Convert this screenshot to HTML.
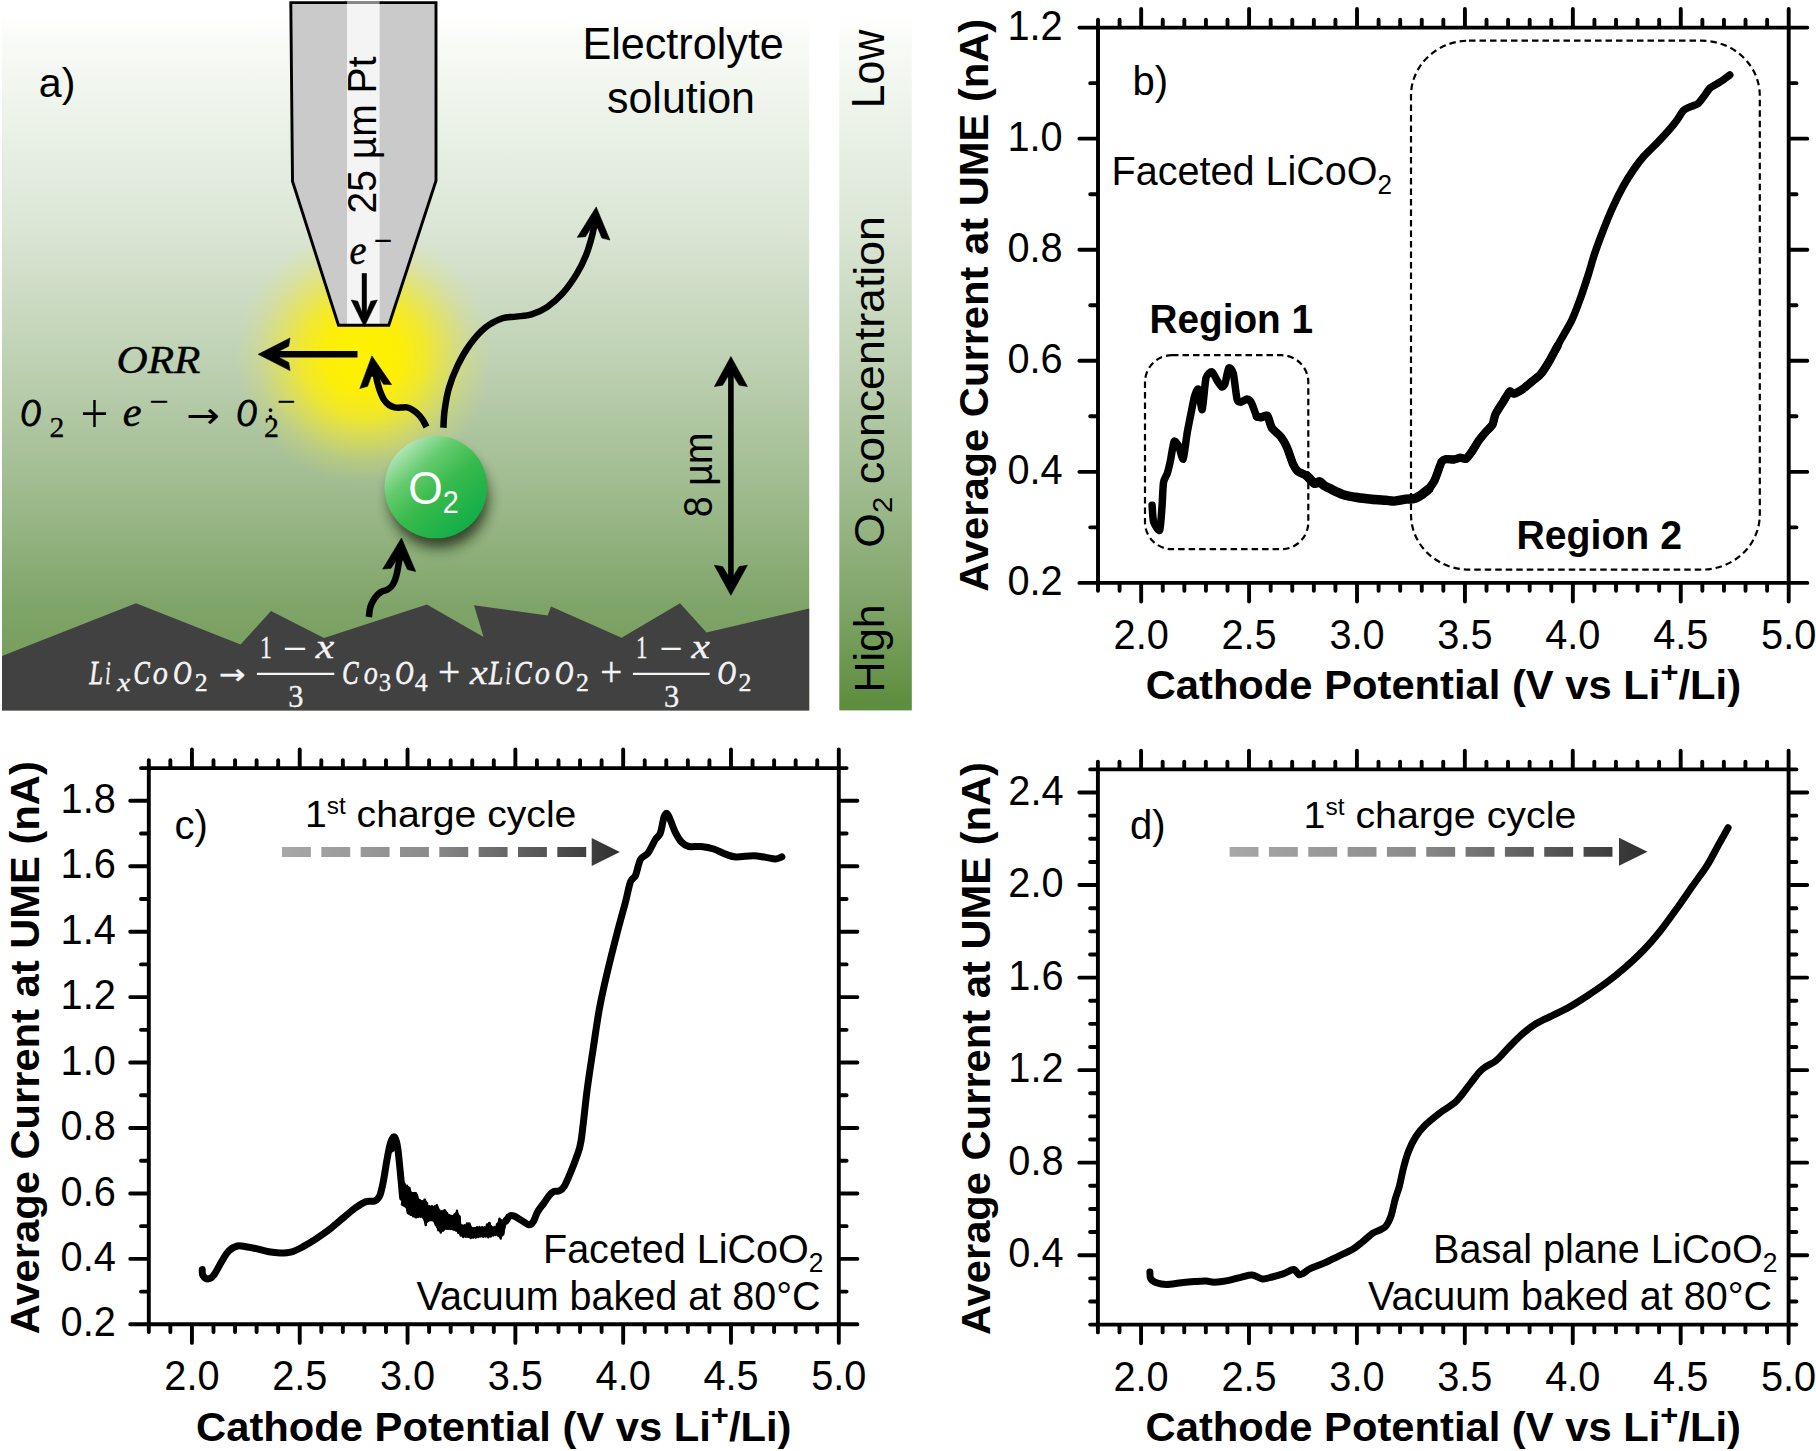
<!DOCTYPE html>
<html lang="en"><head><meta charset="utf-8"><title>Figure</title>
<style>html,body{margin:0;padding:0;background:#fff}svg{display:block}</style>
</head><body>
<svg width="1816" height="1451" viewBox="0 0 1816 1451">
<rect width="1816" height="1451" fill="#fff"/>
<defs>
<linearGradient id="gbg" x1="0" y1="0" x2="0" y2="1"><stop offset="0" stop-color="#ffffff"/><stop offset="0.045" stop-color="#f8faf6"/><stop offset="0.13" stop-color="#eef4eb"/><stop offset="0.305" stop-color="#dbe6d5"/><stop offset="0.50" stop-color="#bed1b3"/><stop offset="0.70" stop-color="#9cb98b"/><stop offset="0.85" stop-color="#7fa468"/><stop offset="1" stop-color="#6e9a52"/></linearGradient>
<linearGradient id="gcb" x1="0" y1="0" x2="0" y2="1"><stop offset="0" stop-color="#ffffff"/><stop offset="0.045" stop-color="#f8faf6"/><stop offset="0.13" stop-color="#eef4eb"/><stop offset="0.305" stop-color="#dbe6d5"/><stop offset="0.50" stop-color="#bed1b3"/><stop offset="0.70" stop-color="#9cb98b"/><stop offset="0.85" stop-color="#7fa468"/><stop offset="1" stop-color="#5c8c3c"/></linearGradient>
<radialGradient id="gglow" cx="0.5" cy="0.5" r="0.5"><stop offset="0" stop-color="#fff100" stop-opacity="1"/><stop offset="0.30" stop-color="#fdee08" stop-opacity="1"/><stop offset="0.48" stop-color="#f9ec18" stop-opacity="0.85"/><stop offset="0.66" stop-color="#f5ea28" stop-opacity="0.52"/><stop offset="0.83" stop-color="#f2e838" stop-opacity="0.2"/><stop offset="1" stop-color="#f0e840" stop-opacity="0"/></radialGradient>
<linearGradient id="gball" x1="0.15" y1="0.1" x2="0.85" y2="0.9"><stop offset="0" stop-color="#b8e8bc"/><stop offset="0.28" stop-color="#64cb6e"/><stop offset="0.55" stop-color="#38ba4c"/><stop offset="1" stop-color="#10ad48"/></linearGradient>
<filter id="fsh" x="-50%" y="-50%" width="200%" height="200%"><feGaussianBlur stdDeviation="6.5"/></filter>
</defs>
<rect x="2" y="15" width="807.2" height="695.4" fill="url(#gbg)"/>
<rect x="839.3" y="15" width="72.5" height="695.4" fill="url(#gcb)"/>
<circle cx="364" cy="356" r="128" fill="url(#gglow)"/>
<path d="M290.8 2.6 L436 2.6 L436 180.8 L388.8 325.3 L338.5 325.3 L292.5 181.3 Z" fill="#cacaca"/>
<rect x="347" y="1.5" width="32.6" height="324" fill="#f4f4f4"/>
<path d="M290.8 2.6 L436 2.6 L436 180.8 L388.8 325.3 L338.5 325.3 L292.5 181.3 Z" fill="none" stroke="#000" stroke-width="2.9" stroke-linejoin="miter"/>
<rect x="347" y="1.2" width="32.6" height="2.8" fill="#f4f4f4" opacity="0.55"/>
<text x="376" y="213.5" font-size="40.5" font-family='"Liberation Sans", Arial, Helvetica, sans-serif' fill="#000" textLength="157" lengthAdjust="spacingAndGlyphs" transform="rotate(-90 376 213.5)">25 µm Pt</text>
<text font-family='"Liberation Serif", "Times New Roman", serif'><tspan x="349.42" y="263.7" font-size="40" fill="#000" font-style="italic" textLength="16.96" lengthAdjust="spacingAndGlyphs" stroke="#000" stroke-width="0.5">e</tspan><tspan x="373.68" y="254.2" font-size="40" fill="#000" font-style="normal" textLength="18.44" lengthAdjust="spacingAndGlyphs" stroke="#000" stroke-width="0.3">−</tspan></text>
<path d="M364.3 273.2 V316" stroke="#000" stroke-width="5" fill="none"/>
<path d="M364.3 326.6L351.3 300L357.8 301.3L361.8 312.1L366.8 312.1L370.8 301.3L377.3 300 Z" fill="#000" stroke="#000" stroke-width="0.6" stroke-linejoin="round"/>
<path d="M2 656L136 603.3L240.6 644.6L271 611L324 638L426.8 604.6L483.6 637L474 605.3L547.7 615.5L551 606.6L621.6 637.7L680 603.3L706.5 632.4L809.2 608.6L809.2 710.4L2 710.4 Z" fill="#414141"/>
<path d="M357.5 354.3 H270" stroke="#000" stroke-width="6.5" fill="none"/>
<path d="M258.2 354.3L290 338L288.7 346.15L279.19 351.05L279.19 357.55L288.7 362.45L290 370.6 Z" fill="#000" stroke="#000" stroke-width="0.6" stroke-linejoin="round"/>
<path d="M426.5 427C425.83 425.75 424.02 421.75 422.5 419.5C420.98 417.25 419.15 415.17 417.4 413.5C415.65 411.83 413.77 410.52 412 409.5C410.23 408.48 408.72 407.72 406.8 407.4C404.88 407.08 402.52 407.6 400.5 407.6C398.48 407.6 396.62 407.83 394.7 407.4C392.78 406.97 390.78 406.27 389 405C387.22 403.73 385.5 402.13 384 399.8C382.5 397.47 381.13 394.03 380 391C378.87 387.97 377.98 384.77 377.2 381.6C376.42 378.43 375.62 373.6 375.3 372" stroke="#000" stroke-width="6.5" fill="none" stroke-linecap="butt"/>
<path d="M371.9 355.9L391.6 384.59L383.5 384.28L377.65 375.74L371.2 376.54L367.62 386.26L359.84 388.54 Z" fill="#000" stroke="#000" stroke-width="0.6" stroke-linejoin="round"/>
<path d="M443.4 427.7C443.6 424.83 443.68 417.1 444.6 410.5C445.52 403.9 446.73 395.57 448.9 388.1C451.07 380.63 454.15 372.88 457.6 365.7C461.05 358.52 465.02 351.32 469.6 345C474.18 338.68 479.63 332.25 485.1 327.8C490.57 323.35 497.23 320.17 502.4 318.3C507.57 316.43 511.23 317.25 516.1 316.6C520.97 315.95 526.43 315.98 531.6 314.4C536.77 312.82 541.93 310.6 547.1 307.1C552.27 303.6 557.72 298.85 562.6 293.4C567.48 287.95 572.52 280.72 576.4 274.4C580.28 268.08 583.32 261.82 585.9 255.5C588.48 249.18 590.45 241.75 591.9 236.5C593.35 231.25 594.15 226.08 594.6 224" stroke="#000" stroke-width="6.5" fill="none"/>
<path d="M596.2 206.9L609.93 240.04L601.87 238.07L597.71 228.15L591.24 227.62L585.52 236.73L577.24 237.35 Z" fill="#000" stroke="#000" stroke-width="0.6" stroke-linejoin="round"/>
<path d="M368.9 616.9C369.15 615.22 369.43 609.93 370.4 606.8C371.37 603.67 373.02 600.52 374.7 598.1C376.38 595.68 378.57 593.63 380.5 592.3C382.43 590.97 384.48 591.07 386.3 590.1C388.12 589.13 389.95 588.18 391.4 586.5C392.85 584.82 394.03 582.42 395 580C395.97 577.58 396.6 574.65 397.2 572C397.8 569.35 398.13 566.75 398.6 564.1C399.07 561.45 399.77 557.43 400 556.1" stroke="#000" stroke-width="6.5" fill="none"/>
<path d="M401.5 538L415.65 571.4L407.51 569.51L403.17 560.18L396.69 559.71L391.05 568.33L382.73 569.04 Z" fill="#000" stroke="#000" stroke-width="0.6" stroke-linejoin="round"/>
<circle cx="438.85" cy="498.55" r="49.3" fill="#18240f" opacity="0.78" filter="url(#fsh)"/>
<circle cx="435.85" cy="487.05" r="51.3" fill="url(#gball)"/>
<text x="408.2" y="503.8" font-size="47" font-family='"Liberation Sans", Arial, Helvetica, sans-serif' fill="#fff" textLength="50.5" lengthAdjust="spacingAndGlyphs">O<tspan font-size="30.5" dy="9">2</tspan></text>
<path d="M730.9 370 V582" stroke="#000" stroke-width="5.6" fill="none"/>
<path d="M730.9 356.5L747.4 386.5L739.15 385.2L733.7 376.3L728.1 376.3L722.65 385.2L714.4 386.5 Z" fill="#000" stroke="#000" stroke-width="0.6" stroke-linejoin="round"/>
<path d="M730.9 595.3L714.4 565.3L722.65 566.6L728.1 575.5L733.7 575.5L739.15 566.6L747.4 565.3 Z" fill="#000" stroke="#000" stroke-width="0.6" stroke-linejoin="round"/>
<text x="712" y="517.2" font-size="40" font-family='"Liberation Sans", Arial, Helvetica, sans-serif' fill="#000" textLength="84.5" lengthAdjust="spacingAndGlyphs" transform="rotate(-90 712 517.2)">8 µm</text>
<text x="38.8" y="97.3" font-size="41.5" font-family='"Liberation Sans", Arial, Helvetica, sans-serif' fill="#000" textLength="36.6" lengthAdjust="spacingAndGlyphs">a)</text>
<text x="582.4" y="58.5" font-size="43.7" font-family='"Liberation Sans", Arial, Helvetica, sans-serif' fill="#000" textLength="201.5" lengthAdjust="spacingAndGlyphs">Electrolyte</text>
<text x="607" y="113" font-size="43.7" font-family='"Liberation Sans", Arial, Helvetica, sans-serif' fill="#000" textLength="148" lengthAdjust="spacingAndGlyphs">solution</text>
<text x="883.6" y="108.2" font-size="46.4" font-family='"Liberation Sans", Arial, Helvetica, sans-serif' fill="#000" textLength="78.5" lengthAdjust="spacingAndGlyphs" transform="rotate(-90 883.6 108.2)">Low</text>
<text x="884" y="547.7" font-size="43.3" font-family='"Liberation Sans", Arial, Helvetica, sans-serif' fill="#000" textLength="331.6" lengthAdjust="spacingAndGlyphs" transform="rotate(-90 884 547.7)">O<tspan font-size="28.5" dy="8.5">2</tspan><tspan dy="-8.5"> concentration</tspan></text>
<text x="883.9" y="692.6" font-size="42.5" font-family='"Liberation Sans", Arial, Helvetica, sans-serif' fill="#000" textLength="88.4" lengthAdjust="spacingAndGlyphs" transform="rotate(-90 883.9 692.6)">High</text>
<text x="116.5" y="372.5" font-size="41" font-family='"Liberation Serif", "Times New Roman", serif' fill="#000" font-style="italic" textLength="84" lengthAdjust="spacingAndGlyphs" stroke="#000" stroke-width="0.4">ORR</text>
<text font-family='"Liberation Serif", "Times New Roman", serif'><tspan x="20.52" y="425.7" font-size="40" fill="#000" font-style="italic" textLength="20.56" lengthAdjust="spacingAndGlyphs" stroke="#000" stroke-width="1.1">O</tspan><tspan x="49.38" y="436.6" font-size="30" fill="#000" font-style="normal" textLength="14.84" lengthAdjust="spacingAndGlyphs" stroke="#000" stroke-width="0.3">2</tspan><tspan x="80.61" y="433.2" font-size="57" fill="#000" font-style="normal" textLength="27.98" lengthAdjust="spacingAndGlyphs">+</tspan><tspan x="122.77" y="425.7" font-size="40" fill="#000" font-style="italic" textLength="18.76" lengthAdjust="spacingAndGlyphs" stroke="#000" stroke-width="0.5">e</tspan><tspan x="149.26" y="413.16" font-size="34" fill="#000" font-style="normal" textLength="19.08" lengthAdjust="spacingAndGlyphs" stroke="#000" stroke-width="0.4">−</tspan><tspan x="186.3" y="428" font-size="36" fill="#000" font-style="normal" textLength="33.6" lengthAdjust="spacingAndGlyphs" font-family='"DejaVu Sans", sans-serif'>→</tspan><tspan x="236.42" y="425.7" font-size="40" fill="#000" font-style="italic" textLength="20.56" lengthAdjust="spacingAndGlyphs" stroke="#000" stroke-width="1.1">O</tspan><tspan x="263.88" y="436.6" font-size="30" fill="#000" font-style="normal" textLength="14.95" lengthAdjust="spacingAndGlyphs" stroke="#000" stroke-width="0.3">2</tspan><tspan x="268.06" y="418.3" font-size="19" fill="#000" font-style="normal" textLength="4.88" lengthAdjust="spacingAndGlyphs" stroke="#000" stroke-width="1.5">:</tspan><tspan x="276.99" y="413.16" font-size="34" fill="#000" font-style="normal" textLength="18.13" lengthAdjust="spacingAndGlyphs" stroke="#000" stroke-width="0.4">−</tspan></text>
<text font-family='"Liberation Serif", "Times New Roman", serif'><tspan x="89.42" y="684" font-size="34" fill="#f4f4f4" font-style="italic" textLength="13.36" lengthAdjust="spacingAndGlyphs" stroke="#f4f4f4" stroke-width="0.8">L</tspan><tspan x="105.35" y="684" font-size="34" fill="#f4f4f4" font-style="italic" textLength="5.41" lengthAdjust="spacingAndGlyphs" stroke="#f4f4f4" stroke-width="0.35">i</tspan><tspan x="117.33" y="690.6" font-size="25" fill="#f4f4f4" font-style="italic" textLength="12.93" lengthAdjust="spacingAndGlyphs" stroke="#f4f4f4" stroke-width="0.35">x</tspan><tspan x="133.54" y="684" font-size="34" fill="#f4f4f4" font-style="italic" textLength="16.22" lengthAdjust="spacingAndGlyphs" stroke="#f4f4f4" stroke-width="0.8">C</tspan><tspan x="152.87" y="684" font-size="34" fill="#f4f4f4" font-style="italic" textLength="15.16" lengthAdjust="spacingAndGlyphs" stroke="#f4f4f4" stroke-width="0.35">o</tspan><tspan x="173.18" y="684" font-size="34" fill="#f4f4f4" font-style="italic" textLength="18.34" lengthAdjust="spacingAndGlyphs" stroke="#f4f4f4" stroke-width="0.8">O</tspan><tspan x="194.73" y="690.6" font-size="25" fill="#f4f4f4" font-style="normal" textLength="12.93" lengthAdjust="spacingAndGlyphs" stroke="#f4f4f4" stroke-width="0.35">2</tspan><tspan x="219" y="683.5" font-size="28" fill="#f4f4f4" font-style="normal" textLength="26.5" lengthAdjust="spacingAndGlyphs" stroke="#f4f4f4" stroke-width="0.35" font-family='"DejaVu Sans", sans-serif'>→</tspan><tspan x="259.96" y="657.5" font-size="32" fill="#f4f4f4" font-style="normal" textLength="11.87" lengthAdjust="spacingAndGlyphs" stroke="#f4f4f4" stroke-width="0.35">1</tspan><tspan x="283.02" y="661.9" font-size="40" fill="#f4f4f4" font-style="normal" textLength="23.85" lengthAdjust="spacingAndGlyphs" stroke="#f4f4f4" stroke-width="0.35">−</tspan><tspan x="315.78" y="657.5" font-size="34" fill="#f4f4f4" font-style="italic" textLength="18.44" lengthAdjust="spacingAndGlyphs" stroke="#f4f4f4" stroke-width="0.35">x</tspan><tspan x="288.37" y="707" font-size="32" fill="#f4f4f4" font-style="normal" textLength="15.16" lengthAdjust="spacingAndGlyphs" stroke="#f4f4f4" stroke-width="0.35">3</tspan><tspan x="342.34" y="684" font-size="34" fill="#f4f4f4" font-style="italic" textLength="16.22" lengthAdjust="spacingAndGlyphs" stroke="#f4f4f4" stroke-width="0.8">C</tspan><tspan x="363.8" y="684" font-size="34" fill="#f4f4f4" font-style="italic" textLength="14.1" lengthAdjust="spacingAndGlyphs" stroke="#f4f4f4" stroke-width="0.35">o</tspan><tspan x="378.75" y="690.6" font-size="25" fill="#f4f4f4" font-style="normal" textLength="12.3" lengthAdjust="spacingAndGlyphs" stroke="#f4f4f4" stroke-width="0.35">3</tspan><tspan x="395.28" y="684" font-size="34" fill="#f4f4f4" font-style="italic" textLength="18.34" lengthAdjust="spacingAndGlyphs" stroke="#f4f4f4" stroke-width="0.8">O</tspan><tspan x="414.83" y="690.6" font-size="25" fill="#f4f4f4" font-style="normal" textLength="12.93" lengthAdjust="spacingAndGlyphs" stroke="#f4f4f4" stroke-width="0.35">4</tspan><tspan x="438.07" y="686.3" font-size="42" fill="#f4f4f4" font-style="normal" textLength="22.26" lengthAdjust="spacingAndGlyphs" stroke="#f4f4f4" stroke-width="0.35">+</tspan><tspan x="470" y="684" font-size="34" fill="#f4f4f4" font-style="italic" textLength="17.7" lengthAdjust="spacingAndGlyphs" stroke="#f4f4f4" stroke-width="0.35">x</tspan><tspan x="488.9" y="684" font-size="34" fill="#f4f4f4" font-style="italic" textLength="13.99" lengthAdjust="spacingAndGlyphs" stroke="#f4f4f4" stroke-width="0.8">L</tspan><tspan x="505.45" y="684" font-size="34" fill="#f4f4f4" font-style="italic" textLength="5.41" lengthAdjust="spacingAndGlyphs" stroke="#f4f4f4" stroke-width="0.35">i</tspan><tspan x="514.21" y="684" font-size="34" fill="#f4f4f4" font-style="italic" textLength="17.28" lengthAdjust="spacingAndGlyphs" stroke="#f4f4f4" stroke-width="0.8">C</tspan><tspan x="534.67" y="684" font-size="34" fill="#f4f4f4" font-style="italic" textLength="15.16" lengthAdjust="spacingAndGlyphs" stroke="#f4f4f4" stroke-width="0.35">o</tspan><tspan x="554.98" y="684" font-size="34" fill="#f4f4f4" font-style="italic" textLength="18.34" lengthAdjust="spacingAndGlyphs" stroke="#f4f4f4" stroke-width="0.8">O</tspan><tspan x="576.13" y="690.6" font-size="25" fill="#f4f4f4" font-style="normal" textLength="12.93" lengthAdjust="spacingAndGlyphs" stroke="#f4f4f4" stroke-width="0.35">2</tspan><tspan x="600.28" y="686.3" font-size="42" fill="#f4f4f4" font-style="normal" textLength="22.05" lengthAdjust="spacingAndGlyphs" stroke="#f4f4f4" stroke-width="0.35">+</tspan><tspan x="636.08" y="657.5" font-size="32" fill="#f4f4f4" font-style="normal" textLength="11.45" lengthAdjust="spacingAndGlyphs" stroke="#f4f4f4" stroke-width="0.35">1</tspan><tspan x="659.76" y="661.9" font-size="40" fill="#f4f4f4" font-style="normal" textLength="22.68" lengthAdjust="spacingAndGlyphs" stroke="#f4f4f4" stroke-width="0.35">−</tspan><tspan x="691.48" y="657.5" font-size="34" fill="#f4f4f4" font-style="italic" textLength="18.34" lengthAdjust="spacingAndGlyphs" stroke="#f4f4f4" stroke-width="0.35">x</tspan><tspan x="664.07" y="707" font-size="32" fill="#f4f4f4" font-style="normal" textLength="15.16" lengthAdjust="spacingAndGlyphs" stroke="#f4f4f4" stroke-width="0.35">3</tspan><tspan x="717.38" y="684" font-size="34" fill="#f4f4f4" font-style="italic" textLength="18.55" lengthAdjust="spacingAndGlyphs" stroke="#f4f4f4" stroke-width="0.8">O</tspan><tspan x="738.53" y="690.6" font-size="25" fill="#f4f4f4" font-style="normal" textLength="12.93" lengthAdjust="spacingAndGlyphs" stroke="#f4f4f4" stroke-width="0.35">2</tspan></text>
<path d="M256.9 673.8 H334.3 M632.9 673.8 H709.7" stroke="#f4f4f4" stroke-width="2.2" fill="none"/>
<path d="M1098 27.6 L1788.7 27.6M1098 582.9 L1788.7 582.9M1098 27.6 L1098 582.9M1788.7 27.6 L1788.7 582.9M1098 27.6 L1098 19.8M1098 582.9 L1098 590.7M1119.58 27.6 L1119.58 19.8M1119.58 582.9 L1119.58 590.7M1141.17 27.6 L1141.17 9M1141.17 582.9 L1141.17 601.5M1162.75 27.6 L1162.75 19.8M1162.75 582.9 L1162.75 590.7M1184.34 27.6 L1184.34 19.8M1184.34 582.9 L1184.34 590.7M1205.92 27.6 L1205.92 19.8M1205.92 582.9 L1205.92 590.7M1227.51 27.6 L1227.51 19.8M1227.51 582.9 L1227.51 590.7M1249.09 27.6 L1249.09 9M1249.09 582.9 L1249.09 601.5M1270.67 27.6 L1270.67 19.8M1270.67 582.9 L1270.67 590.7M1292.26 27.6 L1292.26 19.8M1292.26 582.9 L1292.26 590.7M1313.84 27.6 L1313.84 19.8M1313.84 582.9 L1313.84 590.7M1335.43 27.6 L1335.43 19.8M1335.43 582.9 L1335.43 590.7M1357.01 27.6 L1357.01 9M1357.01 582.9 L1357.01 601.5M1378.6 27.6 L1378.6 19.8M1378.6 582.9 L1378.6 590.7M1400.18 27.6 L1400.18 19.8M1400.18 582.9 L1400.18 590.7M1421.77 27.6 L1421.77 19.8M1421.77 582.9 L1421.77 590.7M1443.35 27.6 L1443.35 19.8M1443.35 582.9 L1443.35 590.7M1464.93 27.6 L1464.93 9M1464.93 582.9 L1464.93 601.5M1486.52 27.6 L1486.52 19.8M1486.52 582.9 L1486.52 590.7M1508.1 27.6 L1508.1 19.8M1508.1 582.9 L1508.1 590.7M1529.69 27.6 L1529.69 19.8M1529.69 582.9 L1529.69 590.7M1551.27 27.6 L1551.27 19.8M1551.27 582.9 L1551.27 590.7M1572.86 27.6 L1572.86 9M1572.86 582.9 L1572.86 601.5M1594.44 27.6 L1594.44 19.8M1594.44 582.9 L1594.44 590.7M1616.03 27.6 L1616.03 19.8M1616.03 582.9 L1616.03 590.7M1637.61 27.6 L1637.61 19.8M1637.61 582.9 L1637.61 590.7M1659.19 27.6 L1659.19 19.8M1659.19 582.9 L1659.19 590.7M1680.78 27.6 L1680.78 9M1680.78 582.9 L1680.78 601.5M1702.36 27.6 L1702.36 19.8M1702.36 582.9 L1702.36 590.7M1723.95 27.6 L1723.95 19.8M1723.95 582.9 L1723.95 590.7M1745.53 27.6 L1745.53 19.8M1745.53 582.9 L1745.53 590.7M1767.12 27.6 L1767.12 19.8M1767.12 582.9 L1767.12 590.7M1788.7 27.6 L1788.7 9M1788.7 582.9 L1788.7 601.5M1098 582.9 L1079.4 582.9M1788.7 582.9 L1807.3 582.9M1098 527.37 L1090.2 527.37M1788.7 527.37 L1796.5 527.37M1098 471.84 L1079.4 471.84M1788.7 471.84 L1807.3 471.84M1098 416.31 L1090.2 416.31M1788.7 416.31 L1796.5 416.31M1098 360.78 L1079.4 360.78M1788.7 360.78 L1807.3 360.78M1098 305.25 L1090.2 305.25M1788.7 305.25 L1796.5 305.25M1098 249.72 L1079.4 249.72M1788.7 249.72 L1807.3 249.72M1098 194.19 L1090.2 194.19M1788.7 194.19 L1796.5 194.19M1098 138.66 L1079.4 138.66M1788.7 138.66 L1807.3 138.66M1098 83.13 L1090.2 83.13M1788.7 83.13 L1796.5 83.13M1098 27.6 L1079.4 27.6M1788.7 27.6 L1807.3 27.6" stroke="#000" stroke-width="3.9" stroke-linecap="round" fill="none"/>
<text x="1141.17" y="648.8" font-size="42.2" font-family='"Liberation Sans", Arial, Helvetica, sans-serif' fill="#000" text-anchor="middle" textLength="55.2" lengthAdjust="spacingAndGlyphs">2.0</text>
<text x="1249.09" y="648.8" font-size="42.2" font-family='"Liberation Sans", Arial, Helvetica, sans-serif' fill="#000" text-anchor="middle" textLength="55.2" lengthAdjust="spacingAndGlyphs">2.5</text>
<text x="1357.01" y="648.8" font-size="42.2" font-family='"Liberation Sans", Arial, Helvetica, sans-serif' fill="#000" text-anchor="middle" textLength="55.2" lengthAdjust="spacingAndGlyphs">3.0</text>
<text x="1464.93" y="648.8" font-size="42.2" font-family='"Liberation Sans", Arial, Helvetica, sans-serif' fill="#000" text-anchor="middle" textLength="55.2" lengthAdjust="spacingAndGlyphs">3.5</text>
<text x="1572.86" y="648.8" font-size="42.2" font-family='"Liberation Sans", Arial, Helvetica, sans-serif' fill="#000" text-anchor="middle" textLength="55.2" lengthAdjust="spacingAndGlyphs">4.0</text>
<text x="1680.78" y="648.8" font-size="42.2" font-family='"Liberation Sans", Arial, Helvetica, sans-serif' fill="#000" text-anchor="middle" textLength="55.2" lengthAdjust="spacingAndGlyphs">4.5</text>
<text x="1788.7" y="648.8" font-size="42.2" font-family='"Liberation Sans", Arial, Helvetica, sans-serif' fill="#000" text-anchor="middle" textLength="55.2" lengthAdjust="spacingAndGlyphs">5.0</text>
<text x="1062.6" y="595" font-size="42.2" font-family='"Liberation Sans", Arial, Helvetica, sans-serif' fill="#000" text-anchor="end" textLength="55.2" lengthAdjust="spacingAndGlyphs">0.2</text>
<text x="1062.6" y="483.94" font-size="42.2" font-family='"Liberation Sans", Arial, Helvetica, sans-serif' fill="#000" text-anchor="end" textLength="55.2" lengthAdjust="spacingAndGlyphs">0.4</text>
<text x="1062.6" y="372.88" font-size="42.2" font-family='"Liberation Sans", Arial, Helvetica, sans-serif' fill="#000" text-anchor="end" textLength="55.2" lengthAdjust="spacingAndGlyphs">0.6</text>
<text x="1062.6" y="261.82" font-size="42.2" font-family='"Liberation Sans", Arial, Helvetica, sans-serif' fill="#000" text-anchor="end" textLength="55.2" lengthAdjust="spacingAndGlyphs">0.8</text>
<text x="1062.6" y="150.76" font-size="42.2" font-family='"Liberation Sans", Arial, Helvetica, sans-serif' fill="#000" text-anchor="end" textLength="55.2" lengthAdjust="spacingAndGlyphs">1.0</text>
<text x="1062.6" y="39.7" font-size="42.2" font-family='"Liberation Sans", Arial, Helvetica, sans-serif' fill="#000" text-anchor="end" textLength="55.2" lengthAdjust="spacingAndGlyphs">1.2</text>
<text x="1443.35" y="698.5" font-size="40.5" font-family='"Liberation Sans", Arial, Helvetica, sans-serif' fill="#000" text-anchor="middle" font-weight="bold" textLength="595.4" lengthAdjust="spacingAndGlyphs">Cathode Potential (V vs Li<tspan font-size="30" dy="-16.5">+</tspan><tspan dy="16.5">/Li)</tspan></text>
<text x="988" y="305.25" font-size="40.5" font-family='"Liberation Sans", Arial, Helvetica, sans-serif' fill="#000" text-anchor="middle" font-weight="bold" textLength="573" lengthAdjust="spacingAndGlyphs" transform="rotate(-90 988 305.25)">Average Current at UME (nA)</text>
<path d="M1152.1 505.3C1152.26 507.08 1152.79 519.33 1153.6 522C1154.41 524.67 1158.8 531.92 1159.7 530.3C1160.6 528.68 1161.59 511.9 1162 506.8C1162.41 501.7 1162.93 486.06 1163.5 482.5C1164.07 478.94 1166.57 475.66 1167.3 473.4C1168.03 471.14 1169.57 464.69 1170.3 461.3C1171.03 457.91 1173.2 443.22 1174.1 441.6C1175 439.98 1177.73 444.24 1178.7 446.1C1179.67 447.96 1182.31 460.29 1183.2 459C1184.09 457.71 1186.19 438.77 1187 434C1187.81 429.23 1189.99 418.34 1190.8 414.3C1191.61 410.26 1193.79 398.77 1194.6 396.1C1195.41 393.43 1197.59 387.85 1198.4 389.3C1199.21 390.75 1201.39 410.92 1202.2 409.7C1203.01 408.48 1204.95 381.94 1206 377.9C1207.05 373.86 1210.79 371.48 1212 371.8C1213.21 372.12 1216.24 379.28 1217.3 380.9C1218.36 382.52 1221.09 386.67 1221.9 387C1222.71 387.33 1224.17 386.03 1224.9 384C1225.63 381.97 1227.8 369.13 1228.7 368C1229.6 366.87 1232.41 370.08 1233.3 373.4C1234.19 376.72 1236.2 396.03 1237 399.1C1237.8 402.17 1239.74 402.2 1240.8 402.2C1241.86 402.2 1245.76 399.03 1246.9 399.1C1248.04 399.17 1250.44 401.03 1251.5 402.9C1252.56 404.77 1255.75 415.06 1256.8 416.6C1257.85 418.14 1260.17 417.39 1261.3 417.3C1262.43 417.21 1266.27 414.67 1267.4 415.8C1268.53 416.93 1270.45 425.64 1271.9 427.9C1273.35 430.16 1279.38 434.89 1281 437C1282.62 439.11 1285.81 444.79 1287.1 447.7C1288.39 450.61 1291.97 461.79 1293.1 464.3C1294.23 466.81 1296.24 469.98 1297.7 471.2C1299.16 472.42 1305.02 474.41 1306.8 475.7C1308.58 476.99 1313.02 482.65 1314.4 483.3C1315.78 483.95 1318.65 481.55 1319.7 481.8C1320.75 482.05 1323.1 484.87 1324.2 485.6C1325.3 486.33 1327.99 487.64 1330 488.6C1332.01 489.56 1340.09 493.65 1343 494.6C1345.91 495.55 1354.25 497.01 1357.3 497.5C1360.35 497.99 1368.55 498.9 1371.6 499.2C1374.65 499.5 1383.46 500.1 1385.9 500.3C1388.34 500.5 1392.36 501.22 1394.5 501.1C1396.64 500.98 1403.87 499.47 1406 499.2C1408.13 498.93 1412.83 499.09 1414.5 498.6C1416.17 498.11 1420.16 495.63 1421.7 494.6C1423.24 493.57 1427.52 490.43 1428.9 488.9C1430.28 487.37 1433.53 482.44 1434.6 480.3C1435.67 478.16 1438.14 470.78 1438.9 468.8C1439.66 466.82 1440.94 462.73 1441.7 461.7C1442.46 460.67 1444.7 459.33 1446 459.1C1447.3 458.87 1452.37 459.65 1453.9 459.5C1455.43 459.35 1459 457.77 1460.3 457.7C1461.6 457.63 1464.87 459.44 1466.1 458.8C1467.33 458.16 1470.42 453.68 1471.8 451.7C1473.18 449.72 1477.47 442.34 1479 440.2C1480.53 438.06 1484.65 433.27 1486.1 431.6C1487.55 429.93 1491.61 426.33 1492.6 424.5C1493.59 422.67 1494.26 416.84 1495.4 414.4C1496.54 411.96 1501.77 404.04 1503.3 401.6C1504.83 399.16 1508.56 392.34 1509.7 391.5C1510.84 390.66 1512.55 394 1514 393.7C1515.45 393.4 1521.39 390 1523.3 388.7C1525.21 387.4 1530.07 383.03 1531.9 381.5C1533.73 379.97 1538.67 376.53 1540.5 374.4C1542.33 372.27 1547.27 364.56 1549.1 361.5C1550.93 358.44 1556.4 348.1 1557.7 345.7C1559 343.3 1559.81 341.7 1561.3 339C1562.79 336.3 1569.72 324.58 1571.7 320.4C1573.68 316.22 1578.14 304.64 1579.9 299.8C1581.66 294.96 1586.65 279.85 1588.2 275C1589.75 270.15 1592.85 258.93 1594.4 254.3C1595.95 249.67 1600.72 236.67 1602.7 231.6C1604.68 226.53 1610.8 211.65 1613 206.8C1615.2 201.95 1621.09 190.08 1623.3 186.1C1625.51 182.12 1631.49 172.7 1633.7 169.5C1635.91 166.3 1641.58 158.85 1644 156.1C1646.42 153.35 1653.75 146.45 1656.4 143.7C1659.05 140.95 1666.59 132.84 1668.8 130.3C1671.01 127.76 1675.55 122 1677.1 119.9C1678.65 117.8 1681.98 111.97 1683.3 110.6C1684.62 109.23 1687.95 107.83 1689.5 107.1C1691.05 106.37 1696.25 104.96 1697.8 103.8C1699.35 102.64 1702.68 97.9 1704 96.2C1705.32 94.5 1708.44 89.45 1710.2 87.9C1711.96 86.35 1718.41 83.09 1720.5 81.7C1722.59 80.31 1728.81 75.63 1729.8 74.9" stroke="#000" stroke-width="7.5" fill="none" stroke-linejoin="round" stroke-linecap="round"/>
<path d="M1306.8 475.7C1307.61 476.51 1313.02 482.65 1314.4 483.3C1315.78 483.95 1318.65 481.55 1319.7 481.8C1320.75 482.05 1323.1 484.87 1324.2 485.6C1325.3 486.33 1327.99 487.64 1330 488.6C1332.01 489.56 1340.09 493.65 1343 494.6C1345.91 495.55 1354.25 497.01 1357.3 497.5C1360.35 497.99 1368.55 498.9 1371.6 499.2C1374.65 499.5 1383.46 500.1 1385.9 500.3C1388.34 500.5 1392.36 501.22 1394.5 501.1C1396.64 500.98 1403.87 499.47 1406 499.2C1408.13 498.93 1412.83 499.09 1414.5 498.6C1416.17 498.11 1420.16 495.63 1421.7 494.6C1423.24 493.57 1428.13 489.51 1428.9 488.9" stroke="#000" stroke-width="9.4" fill="none" stroke-linejoin="round" stroke-linecap="round"/>
<path d="M1428.9 488.9C1429.51 487.98 1433.53 482.44 1434.6 480.3C1435.67 478.16 1438.14 470.78 1438.9 468.8C1439.66 466.82 1440.94 462.73 1441.7 461.7C1442.46 460.67 1444.7 459.33 1446 459.1C1447.3 458.87 1452.37 459.65 1453.9 459.5C1455.43 459.35 1459 457.77 1460.3 457.7C1461.6 457.63 1464.87 459.44 1466.1 458.8C1467.33 458.16 1470.42 453.68 1471.8 451.7C1473.18 449.72 1477.47 442.34 1479 440.2C1480.53 438.06 1484.65 433.27 1486.1 431.6C1487.55 429.93 1491.61 426.33 1492.6 424.5C1493.59 422.67 1494.26 416.84 1495.4 414.4C1496.54 411.96 1501.77 404.04 1503.3 401.6C1504.83 399.16 1508.56 392.34 1509.7 391.5C1510.84 390.66 1512.55 394 1514 393.7C1515.45 393.4 1521.39 390 1523.3 388.7C1525.21 387.4 1530.07 383.03 1531.9 381.5C1533.73 379.97 1538.67 376.53 1540.5 374.4C1542.33 372.27 1547.27 364.56 1549.1 361.5C1550.93 358.44 1556.78 347.39 1557.7 345.7" stroke="#000" stroke-width="8.3" fill="none" stroke-linejoin="round" stroke-linecap="round"/>
<path d="M1256.8 416.6C1257.28 416.67 1260.17 417.39 1261.3 417.3C1262.43 417.21 1266.27 414.67 1267.4 415.8C1268.53 416.93 1270.45 425.64 1271.9 427.9C1273.35 430.16 1279.38 434.89 1281 437C1282.62 439.11 1285.81 444.79 1287.1 447.7C1288.39 450.61 1291.97 461.79 1293.1 464.3C1294.23 466.81 1296.24 469.98 1297.7 471.2C1299.16 472.42 1305.83 475.22 1306.8 475.7" stroke="#000" stroke-width="8.3" fill="none" stroke-linejoin="round" stroke-linecap="round"/>
<rect x="1145" y="355.2" width="163.3" height="194" rx="27" ry="27" fill="none" stroke="#000" stroke-width="2.2" stroke-dasharray="6.5 4"/>
<rect x="1411" y="40.7" width="348.8" height="528.9" rx="58" ry="55" fill="none" stroke="#000" stroke-width="2.2" stroke-dasharray="6.5 4"/>
<text x="1132.5" y="95" font-size="41.5" font-family='"Liberation Sans", Arial, Helvetica, sans-serif' fill="#000" textLength="35.6" lengthAdjust="spacingAndGlyphs">b)</text>
<text x="1111.5" y="185" font-size="41" font-family='"Liberation Sans", Arial, Helvetica, sans-serif' fill="#000" textLength="280.5" lengthAdjust="spacingAndGlyphs">Faceted LiCoO<tspan font-size="27" dy="9">2</tspan></text>
<text x="1149.5" y="333" font-size="40" font-family='"Liberation Sans", Arial, Helvetica, sans-serif' fill="#000" font-weight="bold" textLength="163.5" lengthAdjust="spacingAndGlyphs">Region 1</text>
<text x="1516.5" y="549" font-size="40" font-family='"Liberation Sans", Arial, Helvetica, sans-serif' fill="#000" font-weight="bold" textLength="165.5" lengthAdjust="spacingAndGlyphs">Region 2</text>
<path d="M148.8 768.1 L838.8 768.1M148.8 1324.3 L838.8 1324.3M148.8 768.1 L148.8 1324.3M838.8 768.1 L838.8 1324.3M148.8 768.1 L148.8 760.3M148.8 1324.3 L148.8 1332.1M170.36 768.1 L170.36 760.3M170.36 1324.3 L170.36 1332.1M191.93 768.1 L191.93 749.5M191.93 1324.3 L191.93 1342.9M213.49 768.1 L213.49 760.3M213.49 1324.3 L213.49 1332.1M235.05 768.1 L235.05 760.3M235.05 1324.3 L235.05 1332.1M256.61 768.1 L256.61 760.3M256.61 1324.3 L256.61 1332.1M278.18 768.1 L278.18 760.3M278.18 1324.3 L278.18 1332.1M299.74 768.1 L299.74 749.5M299.74 1324.3 L299.74 1342.9M321.3 768.1 L321.3 760.3M321.3 1324.3 L321.3 1332.1M342.86 768.1 L342.86 760.3M342.86 1324.3 L342.86 1332.1M364.42 768.1 L364.42 760.3M364.42 1324.3 L364.42 1332.1M385.99 768.1 L385.99 760.3M385.99 1324.3 L385.99 1332.1M407.55 768.1 L407.55 749.5M407.55 1324.3 L407.55 1342.9M429.11 768.1 L429.11 760.3M429.11 1324.3 L429.11 1332.1M450.68 768.1 L450.68 760.3M450.68 1324.3 L450.68 1332.1M472.24 768.1 L472.24 760.3M472.24 1324.3 L472.24 1332.1M493.8 768.1 L493.8 760.3M493.8 1324.3 L493.8 1332.1M515.36 768.1 L515.36 749.5M515.36 1324.3 L515.36 1342.9M536.92 768.1 L536.92 760.3M536.92 1324.3 L536.92 1332.1M558.49 768.1 L558.49 760.3M558.49 1324.3 L558.49 1332.1M580.05 768.1 L580.05 760.3M580.05 1324.3 L580.05 1332.1M601.61 768.1 L601.61 760.3M601.61 1324.3 L601.61 1332.1M623.17 768.1 L623.17 749.5M623.17 1324.3 L623.17 1342.9M644.74 768.1 L644.74 760.3M644.74 1324.3 L644.74 1332.1M666.3 768.1 L666.3 760.3M666.3 1324.3 L666.3 1332.1M687.86 768.1 L687.86 760.3M687.86 1324.3 L687.86 1332.1M709.43 768.1 L709.43 760.3M709.43 1324.3 L709.43 1332.1M730.99 768.1 L730.99 749.5M730.99 1324.3 L730.99 1342.9M752.55 768.1 L752.55 760.3M752.55 1324.3 L752.55 1332.1M774.11 768.1 L774.11 760.3M774.11 1324.3 L774.11 1332.1M795.67 768.1 L795.67 760.3M795.67 1324.3 L795.67 1332.1M817.24 768.1 L817.24 760.3M817.24 1324.3 L817.24 1332.1M838.8 768.1 L838.8 749.5M838.8 1324.3 L838.8 1342.9M148.8 1324.3 L130.2 1324.3M838.8 1324.3 L857.4 1324.3M148.8 1291.58 L141 1291.58M838.8 1291.58 L846.6 1291.58M148.8 1258.86 L130.2 1258.86M838.8 1258.86 L857.4 1258.86M148.8 1226.15 L141 1226.15M838.8 1226.15 L846.6 1226.15M148.8 1193.43 L130.2 1193.43M838.8 1193.43 L857.4 1193.43M148.8 1160.71 L141 1160.71M838.8 1160.71 L846.6 1160.71M148.8 1127.99 L130.2 1127.99M838.8 1127.99 L857.4 1127.99M148.8 1095.28 L141 1095.28M838.8 1095.28 L846.6 1095.28M148.8 1062.56 L130.2 1062.56M838.8 1062.56 L857.4 1062.56M148.8 1029.84 L141 1029.84M838.8 1029.84 L846.6 1029.84M148.8 997.12 L130.2 997.12M838.8 997.12 L857.4 997.12M148.8 964.41 L141 964.41M838.8 964.41 L846.6 964.41M148.8 931.69 L130.2 931.69M838.8 931.69 L857.4 931.69M148.8 898.97 L141 898.97M838.8 898.97 L846.6 898.97M148.8 866.25 L130.2 866.25M838.8 866.25 L857.4 866.25M148.8 833.54 L141 833.54M838.8 833.54 L846.6 833.54M148.8 800.82 L130.2 800.82M838.8 800.82 L857.4 800.82M148.8 768.1 L141 768.1M838.8 768.1 L846.6 768.1" stroke="#000" stroke-width="3.9" stroke-linecap="round" fill="none"/>
<text x="191.93" y="1390.2" font-size="42.2" font-family='"Liberation Sans", Arial, Helvetica, sans-serif' fill="#000" text-anchor="middle" textLength="55.2" lengthAdjust="spacingAndGlyphs">2.0</text>
<text x="299.74" y="1390.2" font-size="42.2" font-family='"Liberation Sans", Arial, Helvetica, sans-serif' fill="#000" text-anchor="middle" textLength="55.2" lengthAdjust="spacingAndGlyphs">2.5</text>
<text x="407.55" y="1390.2" font-size="42.2" font-family='"Liberation Sans", Arial, Helvetica, sans-serif' fill="#000" text-anchor="middle" textLength="55.2" lengthAdjust="spacingAndGlyphs">3.0</text>
<text x="515.36" y="1390.2" font-size="42.2" font-family='"Liberation Sans", Arial, Helvetica, sans-serif' fill="#000" text-anchor="middle" textLength="55.2" lengthAdjust="spacingAndGlyphs">3.5</text>
<text x="623.17" y="1390.2" font-size="42.2" font-family='"Liberation Sans", Arial, Helvetica, sans-serif' fill="#000" text-anchor="middle" textLength="55.2" lengthAdjust="spacingAndGlyphs">4.0</text>
<text x="730.99" y="1390.2" font-size="42.2" font-family='"Liberation Sans", Arial, Helvetica, sans-serif' fill="#000" text-anchor="middle" textLength="55.2" lengthAdjust="spacingAndGlyphs">4.5</text>
<text x="838.8" y="1390.2" font-size="42.2" font-family='"Liberation Sans", Arial, Helvetica, sans-serif' fill="#000" text-anchor="middle" textLength="55.2" lengthAdjust="spacingAndGlyphs">5.0</text>
<text x="115.8" y="1336.4" font-size="42.2" font-family='"Liberation Sans", Arial, Helvetica, sans-serif' fill="#000" text-anchor="end" textLength="55.2" lengthAdjust="spacingAndGlyphs">0.2</text>
<text x="115.8" y="1270.96" font-size="42.2" font-family='"Liberation Sans", Arial, Helvetica, sans-serif' fill="#000" text-anchor="end" textLength="55.2" lengthAdjust="spacingAndGlyphs">0.4</text>
<text x="115.8" y="1205.53" font-size="42.2" font-family='"Liberation Sans", Arial, Helvetica, sans-serif' fill="#000" text-anchor="end" textLength="55.2" lengthAdjust="spacingAndGlyphs">0.6</text>
<text x="115.8" y="1140.09" font-size="42.2" font-family='"Liberation Sans", Arial, Helvetica, sans-serif' fill="#000" text-anchor="end" textLength="55.2" lengthAdjust="spacingAndGlyphs">0.8</text>
<text x="115.8" y="1074.66" font-size="42.2" font-family='"Liberation Sans", Arial, Helvetica, sans-serif' fill="#000" text-anchor="end" textLength="55.2" lengthAdjust="spacingAndGlyphs">1.0</text>
<text x="115.8" y="1009.22" font-size="42.2" font-family='"Liberation Sans", Arial, Helvetica, sans-serif' fill="#000" text-anchor="end" textLength="55.2" lengthAdjust="spacingAndGlyphs">1.2</text>
<text x="115.8" y="943.79" font-size="42.2" font-family='"Liberation Sans", Arial, Helvetica, sans-serif' fill="#000" text-anchor="end" textLength="55.2" lengthAdjust="spacingAndGlyphs">1.4</text>
<text x="115.8" y="878.35" font-size="42.2" font-family='"Liberation Sans", Arial, Helvetica, sans-serif' fill="#000" text-anchor="end" textLength="55.2" lengthAdjust="spacingAndGlyphs">1.6</text>
<text x="115.8" y="812.92" font-size="42.2" font-family='"Liberation Sans", Arial, Helvetica, sans-serif' fill="#000" text-anchor="end" textLength="55.2" lengthAdjust="spacingAndGlyphs">1.8</text>
<text x="493.8" y="1441.1" font-size="40.5" font-family='"Liberation Sans", Arial, Helvetica, sans-serif' fill="#000" text-anchor="middle" font-weight="bold" textLength="595.4" lengthAdjust="spacingAndGlyphs">Cathode Potential (V vs Li<tspan font-size="30" dy="-16.5">+</tspan><tspan dy="16.5">/Li)</tspan></text>
<text x="38.8" y="1047.7" font-size="40.5" font-family='"Liberation Sans", Arial, Helvetica, sans-serif' fill="#000" text-anchor="middle" font-weight="bold" textLength="573" lengthAdjust="spacingAndGlyphs" transform="rotate(-90 38.8 1047.7)">Average Current at UME (nA)</text>
<path d="M404.23 1183L406.05 1185.42L409.08 1186.87L411.5 1192.45L416.34 1192.45L418.77 1199.35L422.4 1200.93L425.43 1199.35L428.46 1206.98L433.3 1206.62L436.94 1204.56L440.57 1211.83L445.42 1209.89L449.05 1215.46L453.29 1215.71L456.93 1211.1L459.96 1216.67L460.93 1225.15L464.8 1225.64L469.04 1222.73L472.07 1227.58L480.55 1227.58L485.4 1227.21L489.03 1222.13L492.67 1227.58L496.3 1226.61L499.33 1218.37L502.36 1220.31L507.2 1214.25L505.99 1224.43L503.57 1234.12L500.54 1238.72L496.3 1234.12L490.24 1236.66L480.55 1236.66L472.07 1237.88L467.23 1237.27L461.17 1236.06L457.53 1231.7L452.69 1229.27L445.42 1229.27L440.57 1232.67L436.94 1228.06L433.3 1220.79L428.46 1220.79L425.43 1224.79L422.4 1215.95L416.34 1217.89L407.26 1213.52L406.05 1207.47L401.2 1205.04 Z" fill="#000" stroke="#000" stroke-width="1" stroke-linejoin="round"/>
<path d="M389.5 1150 L394.5 1134.5 L400.5 1150 L397.6 1153 L394.5 1151 L391.5 1153 Z" fill="#000"/>
<path d="M404.5 1183.77L405.75 1206.59L407 1185.7L408.25 1213.13L409.5 1187.89L410.75 1214.86L412 1193.34L413.25 1216.31L414.5 1193.38L415.75 1217.38L417 1195.19L418.25 1216.44L419.5 1199.9L420.75 1216.96L422 1201.53L423.25 1217.83L424.5 1199.7L425.75 1225.07L427 1203.27L428.25 1220.78L429.5 1206.15L430.75 1219.88L432 1206.17L433.25 1220.31L434.5 1206.68L435.75 1224.9L437 1205.13L438.25 1230.19L439.5 1210.36L440.75 1232.59L442 1211.11L443.25 1230.46L444.5 1210.27L445.75 1228.39L447 1213.21L448.25 1228.64L449.5 1215.26L450.75 1229.04L452 1216.07L453.25 1229.61L454.5 1214.36L455.75 1230.34L457 1210.8L458.25 1232.81L459.5 1216.4L460.75 1235.59L462 1225.34L463.25 1237.05L464.5 1225.29L465.75 1236.49L467 1223.37L468.25 1236.61L469.5 1223.71L470.75 1238.07L472 1228.19L473.25 1237.59L474.5 1228.51L475.75 1237.55L477 1227.2L478.25 1237.02L479.5 1227L480.75 1236.23L482 1227.22L483.25 1236.73L484.5 1227.24L485.75 1236.48L487 1224.46L488.25 1237.36L489.5 1222.98L490.75 1236.65L492 1227.47L493.25 1235.66L494.5 1226.92L495.75 1235.14L497 1224.23L498.25 1235.75L499.5 1218.79L500.75 1238.61L502 1221.04L503.25 1234.44L504.5 1218.33" stroke="#000" stroke-width="2.4" fill="none" stroke-linejoin="round" stroke-linecap="round"/>
<path d="M202.2 1269.6C202.32 1270.57 201.95 1273.83 202.9 1275.4C203.85 1276.97 206.12 1279 207.9 1279C209.68 1279 211.33 1278.27 213.6 1275.4C215.87 1272.53 218.98 1265.87 221.5 1261.8C224.02 1257.73 226.07 1253.63 228.7 1251C231.33 1248.37 234.43 1246.72 237.3 1246C240.17 1245.28 242.57 1246.22 245.9 1246.7C249.23 1247.18 253.48 1248.05 257.3 1248.9C261.12 1249.75 264.98 1251.13 268.8 1251.8C272.62 1252.47 276.38 1252.9 280.2 1252.9C284.02 1252.9 287.88 1252.83 291.7 1251.8C295.52 1250.77 299.05 1248.85 303.1 1246.7C307.15 1244.55 311.47 1241.88 316 1238.9C320.53 1235.92 325.53 1232.5 330.3 1228.8C335.07 1225.1 340.3 1220.27 344.6 1216.7C348.9 1213.13 352.52 1209.92 356.1 1207.4C359.68 1204.88 363 1202.68 366.1 1201.6C369.2 1200.52 372.43 1201.85 374.7 1200.9C376.97 1199.95 378.27 1199.12 379.7 1195.9C381.13 1192.68 382.1 1187.57 383.3 1181.6C384.5 1175.63 385.7 1166.53 386.9 1160.1C388.1 1153.67 389.23 1146.85 390.5 1143C391.77 1139.15 393.32 1136.3 394.5 1137C395.68 1137.7 396.6 1140.97 397.6 1147.2C398.6 1153.43 399.67 1166.03 400.5 1174.4C401.33 1182.77 402.25 1193.57 402.6 1197.4" stroke="#000" stroke-width="7" fill="none" stroke-linejoin="round" stroke-linecap="round"/>
<path d="M506 1221C506.7 1220.12 508.78 1216.48 510.2 1215.7C511.62 1214.92 512.58 1215.48 514.5 1216.3C516.42 1217.12 519.28 1219.18 521.7 1220.6C524.12 1222.02 527.08 1224.6 529 1224.8C530.92 1225 531.78 1223.92 533.2 1221.8C534.62 1219.68 535.78 1215.13 537.5 1212.1C539.22 1209.07 541.48 1206.43 543.5 1203.6C545.52 1200.77 547.88 1197.12 549.6 1195.1C551.32 1193.08 552.18 1192.2 553.8 1191.5C555.42 1190.8 557.58 1191.72 559.3 1190.9C561.02 1190.08 562.28 1189.53 564.1 1186.6C565.92 1183.67 568.17 1178.13 570.2 1173.3C572.23 1168.47 574.48 1163.05 576.3 1157.6C578.12 1152.15 579.3 1151.85 581.1 1140.6C582.9 1129.35 585.07 1105.55 587.1 1090.1C589.13 1074.65 591.23 1061.55 593.3 1047.9C595.37 1034.25 597.22 1020.6 599.5 1008.2C601.78 995.8 604.1 985.9 607 973.5C609.9 961.1 613.8 945.78 616.9 933.8C620 921.82 623.33 910.28 625.6 901.6C627.87 892.92 628.85 886.05 630.5 881.7C632.15 877.35 633.83 879.22 635.5 875.5C637.17 871.78 638.43 863.12 640.5 859.4C642.57 855.68 645.42 856.52 647.9 853.2C650.38 849.88 653.33 842.82 655.4 839.5C657.47 836.18 658.87 837.02 660.3 833.3C661.73 829.58 662.88 820.5 664 817.2C665.12 813.9 665.97 813.08 667 813.5C668.03 813.92 668.83 816.6 670.2 819.7C671.57 822.8 673.33 828.38 675.2 832.1C677.07 835.82 679.13 839.6 681.4 842C683.67 844.4 685.5 845.75 688.8 846.5C692.1 847.25 697.05 846.08 701.2 846.5C705.35 846.92 709.55 847.68 713.7 849C717.85 850.32 722.38 853.08 726.1 854.4C729.82 855.72 731.47 856.68 736 856.9C740.53 857.12 748.35 855.62 753.3 855.7C758.25 855.78 761.97 856.87 765.7 857.4C769.43 857.93 773 858.98 775.7 858.9C778.4 858.82 780.87 857.23 781.9 856.9" stroke="#000" stroke-width="7" fill="none" stroke-linejoin="round" stroke-linecap="round"/>
<defs><linearGradient id="gdc" gradientUnits="userSpaceOnUse" x1="282" y1="0" x2="619.9" y2="0"><stop offset="0" stop-color="#a8a8a8"/><stop offset="0.45" stop-color="#8a8a8a"/><stop offset="1" stop-color="#303030"/></linearGradient></defs>
<path d="M282 847.1h28.9v9.8h-28.9ZM321.33 847.1h28.9v9.8h-28.9ZM360.66 847.1h28.9v9.8h-28.9ZM399.99 847.1h28.9v9.8h-28.9ZM439.32 847.1h28.9v9.8h-28.9ZM478.65 847.1h28.9v9.8h-28.9ZM517.98 847.1h28.9v9.8h-28.9ZM557.31 847.1h28.9v9.8h-28.9ZM591.7 838L619.9 852L591.7 866Z" fill="url(#gdc)"/>
<text x="305" y="826.5" font-size="37" font-family='"Liberation Sans", Arial, Helvetica, sans-serif' fill="#000" textLength="271.4" lengthAdjust="spacingAndGlyphs">1<tspan font-size="23" dy="-12.5">st</tspan><tspan dy="12.5"> charge cycle</tspan></text>
<text x="174.5" y="839.4" font-size="41.5" font-family='"Liberation Sans", Arial, Helvetica, sans-serif' fill="#000" textLength="33.4" lengthAdjust="spacingAndGlyphs">c)</text>
<text x="823.5" y="1263" font-size="40.5" font-family='"Liberation Sans", Arial, Helvetica, sans-serif' fill="#000" text-anchor="end" textLength="280.5" lengthAdjust="spacingAndGlyphs">Faceted LiCoO<tspan font-size="27" dy="9">2</tspan></text>
<text x="820.5" y="1309.8" font-size="40.5" font-family='"Liberation Sans", Arial, Helvetica, sans-serif' fill="#000" text-anchor="end" textLength="404" lengthAdjust="spacingAndGlyphs">Vacuum baked at 80°C</text>
<path d="M1097.9 769.4 L1788.6 769.4M1097.9 1324.6 L1788.6 1324.6M1097.9 769.4 L1097.9 1324.6M1788.6 769.4 L1788.6 1324.6M1097.9 769.4 L1097.9 761.6M1097.9 1324.6 L1097.9 1332.4M1119.48 769.4 L1119.48 761.6M1119.48 1324.6 L1119.48 1332.4M1141.07 769.4 L1141.07 750.8M1141.07 1324.6 L1141.07 1343.2M1162.65 769.4 L1162.65 761.6M1162.65 1324.6 L1162.65 1332.4M1184.24 769.4 L1184.24 761.6M1184.24 1324.6 L1184.24 1332.4M1205.82 769.4 L1205.82 761.6M1205.82 1324.6 L1205.82 1332.4M1227.41 769.4 L1227.41 761.6M1227.41 1324.6 L1227.41 1332.4M1248.99 769.4 L1248.99 750.8M1248.99 1324.6 L1248.99 1343.2M1270.58 769.4 L1270.58 761.6M1270.58 1324.6 L1270.58 1332.4M1292.16 769.4 L1292.16 761.6M1292.16 1324.6 L1292.16 1332.4M1313.74 769.4 L1313.74 761.6M1313.74 1324.6 L1313.74 1332.4M1335.33 769.4 L1335.33 761.6M1335.33 1324.6 L1335.33 1332.4M1356.91 769.4 L1356.91 750.8M1356.91 1324.6 L1356.91 1343.2M1378.5 769.4 L1378.5 761.6M1378.5 1324.6 L1378.5 1332.4M1400.08 769.4 L1400.08 761.6M1400.08 1324.6 L1400.08 1332.4M1421.67 769.4 L1421.67 761.6M1421.67 1324.6 L1421.67 1332.4M1443.25 769.4 L1443.25 761.6M1443.25 1324.6 L1443.25 1332.4M1464.83 769.4 L1464.83 750.8M1464.83 1324.6 L1464.83 1343.2M1486.42 769.4 L1486.42 761.6M1486.42 1324.6 L1486.42 1332.4M1508 769.4 L1508 761.6M1508 1324.6 L1508 1332.4M1529.59 769.4 L1529.59 761.6M1529.59 1324.6 L1529.59 1332.4M1551.17 769.4 L1551.17 761.6M1551.17 1324.6 L1551.17 1332.4M1572.76 769.4 L1572.76 750.8M1572.76 1324.6 L1572.76 1343.2M1594.34 769.4 L1594.34 761.6M1594.34 1324.6 L1594.34 1332.4M1615.93 769.4 L1615.93 761.6M1615.93 1324.6 L1615.93 1332.4M1637.51 769.4 L1637.51 761.6M1637.51 1324.6 L1637.51 1332.4M1659.09 769.4 L1659.09 761.6M1659.09 1324.6 L1659.09 1332.4M1680.68 769.4 L1680.68 750.8M1680.68 1324.6 L1680.68 1343.2M1702.26 769.4 L1702.26 761.6M1702.26 1324.6 L1702.26 1332.4M1723.85 769.4 L1723.85 761.6M1723.85 1324.6 L1723.85 1332.4M1745.43 769.4 L1745.43 761.6M1745.43 1324.6 L1745.43 1332.4M1767.02 769.4 L1767.02 761.6M1767.02 1324.6 L1767.02 1332.4M1788.6 769.4 L1788.6 750.8M1788.6 1324.6 L1788.6 1343.2M1097.9 1324.6 L1090.1 1324.6M1788.6 1324.6 L1796.4 1324.6M1097.9 1301.47 L1090.1 1301.47M1788.6 1301.47 L1796.4 1301.47M1097.9 1278.33 L1090.1 1278.33M1788.6 1278.33 L1796.4 1278.33M1097.9 1255.2 L1079.3 1255.2M1788.6 1255.2 L1807.2 1255.2M1097.9 1232.07 L1090.1 1232.07M1788.6 1232.07 L1796.4 1232.07M1097.9 1208.93 L1090.1 1208.93M1788.6 1208.93 L1796.4 1208.93M1097.9 1185.8 L1090.1 1185.8M1788.6 1185.8 L1796.4 1185.8M1097.9 1162.67 L1079.3 1162.67M1788.6 1162.67 L1807.2 1162.67M1097.9 1139.53 L1090.1 1139.53M1788.6 1139.53 L1796.4 1139.53M1097.9 1116.4 L1090.1 1116.4M1788.6 1116.4 L1796.4 1116.4M1097.9 1093.27 L1090.1 1093.27M1788.6 1093.27 L1796.4 1093.27M1097.9 1070.13 L1079.3 1070.13M1788.6 1070.13 L1807.2 1070.13M1097.9 1047 L1090.1 1047M1788.6 1047 L1796.4 1047M1097.9 1023.87 L1090.1 1023.87M1788.6 1023.87 L1796.4 1023.87M1097.9 1000.73 L1090.1 1000.73M1788.6 1000.73 L1796.4 1000.73M1097.9 977.6 L1079.3 977.6M1788.6 977.6 L1807.2 977.6M1097.9 954.47 L1090.1 954.47M1788.6 954.47 L1796.4 954.47M1097.9 931.33 L1090.1 931.33M1788.6 931.33 L1796.4 931.33M1097.9 908.2 L1090.1 908.2M1788.6 908.2 L1796.4 908.2M1097.9 885.07 L1079.3 885.07M1788.6 885.07 L1807.2 885.07M1097.9 861.93 L1090.1 861.93M1788.6 861.93 L1796.4 861.93M1097.9 838.8 L1090.1 838.8M1788.6 838.8 L1796.4 838.8M1097.9 815.67 L1090.1 815.67M1788.6 815.67 L1796.4 815.67M1097.9 792.53 L1079.3 792.53M1788.6 792.53 L1807.2 792.53M1097.9 769.4 L1090.1 769.4M1788.6 769.4 L1796.4 769.4" stroke="#000" stroke-width="3.9" stroke-linecap="round" fill="none"/>
<text x="1141.07" y="1390.5" font-size="42.2" font-family='"Liberation Sans", Arial, Helvetica, sans-serif' fill="#000" text-anchor="middle" textLength="55.2" lengthAdjust="spacingAndGlyphs">2.0</text>
<text x="1248.99" y="1390.5" font-size="42.2" font-family='"Liberation Sans", Arial, Helvetica, sans-serif' fill="#000" text-anchor="middle" textLength="55.2" lengthAdjust="spacingAndGlyphs">2.5</text>
<text x="1356.91" y="1390.5" font-size="42.2" font-family='"Liberation Sans", Arial, Helvetica, sans-serif' fill="#000" text-anchor="middle" textLength="55.2" lengthAdjust="spacingAndGlyphs">3.0</text>
<text x="1464.83" y="1390.5" font-size="42.2" font-family='"Liberation Sans", Arial, Helvetica, sans-serif' fill="#000" text-anchor="middle" textLength="55.2" lengthAdjust="spacingAndGlyphs">3.5</text>
<text x="1572.76" y="1390.5" font-size="42.2" font-family='"Liberation Sans", Arial, Helvetica, sans-serif' fill="#000" text-anchor="middle" textLength="55.2" lengthAdjust="spacingAndGlyphs">4.0</text>
<text x="1680.68" y="1390.5" font-size="42.2" font-family='"Liberation Sans", Arial, Helvetica, sans-serif' fill="#000" text-anchor="middle" textLength="55.2" lengthAdjust="spacingAndGlyphs">4.5</text>
<text x="1788.6" y="1390.5" font-size="42.2" font-family='"Liberation Sans", Arial, Helvetica, sans-serif' fill="#000" text-anchor="middle" textLength="55.2" lengthAdjust="spacingAndGlyphs">5.0</text>
<text x="1063.5" y="1267.3" font-size="42.2" font-family='"Liberation Sans", Arial, Helvetica, sans-serif' fill="#000" text-anchor="end" textLength="55.2" lengthAdjust="spacingAndGlyphs">0.4</text>
<text x="1063.5" y="1174.77" font-size="42.2" font-family='"Liberation Sans", Arial, Helvetica, sans-serif' fill="#000" text-anchor="end" textLength="55.2" lengthAdjust="spacingAndGlyphs">0.8</text>
<text x="1063.5" y="1082.23" font-size="42.2" font-family='"Liberation Sans", Arial, Helvetica, sans-serif' fill="#000" text-anchor="end" textLength="55.2" lengthAdjust="spacingAndGlyphs">1.2</text>
<text x="1063.5" y="989.7" font-size="42.2" font-family='"Liberation Sans", Arial, Helvetica, sans-serif' fill="#000" text-anchor="end" textLength="55.2" lengthAdjust="spacingAndGlyphs">1.6</text>
<text x="1063.5" y="897.17" font-size="42.2" font-family='"Liberation Sans", Arial, Helvetica, sans-serif' fill="#000" text-anchor="end" textLength="55.2" lengthAdjust="spacingAndGlyphs">2.0</text>
<text x="1063.5" y="804.63" font-size="42.2" font-family='"Liberation Sans", Arial, Helvetica, sans-serif' fill="#000" text-anchor="end" textLength="55.2" lengthAdjust="spacingAndGlyphs">2.4</text>
<text x="1443.25" y="1441.4" font-size="40.5" font-family='"Liberation Sans", Arial, Helvetica, sans-serif' fill="#000" text-anchor="middle" font-weight="bold" textLength="595.4" lengthAdjust="spacingAndGlyphs">Cathode Potential (V vs Li<tspan font-size="30" dy="-16.5">+</tspan><tspan dy="16.5">/Li)</tspan></text>
<text x="989.6" y="1048.5" font-size="40.5" font-family='"Liberation Sans", Arial, Helvetica, sans-serif' fill="#000" text-anchor="middle" font-weight="bold" textLength="573" lengthAdjust="spacingAndGlyphs" transform="rotate(-90 989.6 1048.5)">Average Current at UME (nA)</text>
<path d="M1149.9 1272C1150.03 1273.1 1149.6 1276.82 1150.7 1278.6C1151.8 1280.38 1153.88 1281.73 1156.5 1282.7C1159.12 1283.67 1162.27 1284.4 1166.4 1284.4C1170.53 1284.4 1176.62 1283.17 1181.3 1282.7C1185.98 1282.23 1190.37 1281.87 1194.5 1281.6C1198.63 1281.33 1202.8 1281 1206.1 1281.1C1209.4 1281.2 1210.72 1282.28 1214.3 1282.2C1217.88 1282.12 1223.18 1281.42 1227.6 1280.6C1232.02 1279.78 1236.68 1278.23 1240.8 1277.3C1244.92 1276.37 1248.72 1274.73 1252.3 1275C1255.88 1275.27 1258.98 1278.57 1262.3 1278.9C1265.62 1279.23 1268.63 1277.88 1272.2 1277C1275.77 1276.12 1280.13 1274.85 1283.7 1273.6C1287.27 1272.35 1291.12 1269.35 1293.6 1269.5C1296.08 1269.65 1297.08 1273.82 1298.6 1274.5C1300.12 1275.18 1300.77 1274.57 1302.7 1273.6C1304.63 1272.63 1306.75 1270.4 1310.2 1268.7C1313.65 1267 1318.73 1265.47 1323.4 1263.4C1328.07 1261.33 1333.25 1258.72 1338.2 1256.3C1343.15 1253.88 1348.97 1251.38 1353.1 1248.9C1357.23 1246.42 1359.7 1244.02 1363 1241.4C1366.3 1238.78 1369.87 1235.2 1372.9 1233.2C1375.93 1231.2 1378.98 1230.65 1381.2 1229.4C1383.42 1228.15 1384.55 1227.97 1386.2 1225.7C1387.85 1223.43 1389.6 1220.2 1391.1 1215.8C1392.6 1211.4 1393.82 1204.25 1395.2 1199.3C1396.58 1194.35 1398.02 1191.33 1399.4 1186.1C1400.78 1180.87 1401.98 1173.68 1403.5 1167.9C1405.02 1162.12 1406.43 1156.63 1408.5 1151.4C1410.57 1146.17 1413.02 1140.97 1415.9 1136.5C1418.78 1132.03 1421.82 1128.53 1425.8 1124.6C1429.78 1120.67 1434.73 1116.8 1439.8 1112.9C1444.87 1109 1451.12 1106.08 1456.2 1101.2C1461.28 1096.32 1466 1088.88 1470.3 1083.6C1474.6 1078.32 1477.7 1073.33 1482 1069.5C1486.3 1065.67 1491.8 1064.12 1496.1 1060.6C1500.4 1057.08 1503.5 1052.77 1507.8 1048.4C1512.1 1044.03 1517.22 1038.5 1521.9 1034.4C1526.58 1030.3 1530.83 1026.93 1535.9 1023.8C1540.97 1020.67 1546.83 1018.33 1552.3 1015.6C1557.77 1012.87 1562.83 1010.72 1568.7 1007.4C1574.57 1004.08 1581.25 999.8 1587.5 995.7C1593.75 991.6 1599.95 987.48 1606.2 982.8C1612.45 978.12 1618.75 973.07 1625 967.6C1631.25 962.13 1637.85 956.07 1643.7 950C1649.55 943.93 1654.63 938.03 1660.1 931.2C1665.57 924.37 1671.03 916.62 1676.5 909C1681.97 901.38 1687.82 892.73 1692.9 885.5C1697.98 878.27 1702.7 872.43 1707 865.6C1711.3 858.77 1715.18 850.82 1718.7 844.5C1722.22 838.18 1726.53 830.5 1728.1 827.7" stroke="#000" stroke-width="7" fill="none" stroke-linejoin="round" stroke-linecap="round"/>
<defs><linearGradient id="gdd" gradientUnits="userSpaceOnUse" x1="1229.6" y1="0" x2="1647.5" y2="0"><stop offset="0" stop-color="#a8a8a8"/><stop offset="0.45" stop-color="#8a8a8a"/><stop offset="1" stop-color="#303030"/></linearGradient></defs>
<path d="M1229.6 846.9h28.9v9.8h-28.9ZM1268.93 846.9h28.9v9.8h-28.9ZM1308.26 846.9h28.9v9.8h-28.9ZM1347.59 846.9h28.9v9.8h-28.9ZM1386.92 846.9h28.9v9.8h-28.9ZM1426.25 846.9h28.9v9.8h-28.9ZM1465.58 846.9h28.9v9.8h-28.9ZM1504.91 846.9h28.9v9.8h-28.9ZM1544.24 846.9h28.9v9.8h-28.9ZM1583.57 846.9h28.9v9.8h-28.9ZM1619 837.8L1647.5 851.8L1619 865.8Z" fill="url(#gdd)"/>
<text x="1303.6" y="827.6" font-size="37" font-family='"Liberation Sans", Arial, Helvetica, sans-serif' fill="#000" textLength="272.7" lengthAdjust="spacingAndGlyphs">1<tspan font-size="23" dy="-12.5">st</tspan><tspan dy="12.5"> charge cycle</tspan></text>
<text x="1130" y="839" font-size="41.5" font-family='"Liberation Sans", Arial, Helvetica, sans-serif' fill="#000" textLength="35.6" lengthAdjust="spacingAndGlyphs">d)</text>
<text x="1777.5" y="1262.8" font-size="40.5" font-family='"Liberation Sans", Arial, Helvetica, sans-serif' fill="#000" text-anchor="end" textLength="344.5" lengthAdjust="spacingAndGlyphs">Basal plane LiCoO<tspan font-size="27" dy="9">2</tspan></text>
<text x="1772" y="1309.8" font-size="40.5" font-family='"Liberation Sans", Arial, Helvetica, sans-serif' fill="#000" text-anchor="end" textLength="404" lengthAdjust="spacingAndGlyphs">Vacuum baked at 80°C</text>
</svg>
</body></html>
